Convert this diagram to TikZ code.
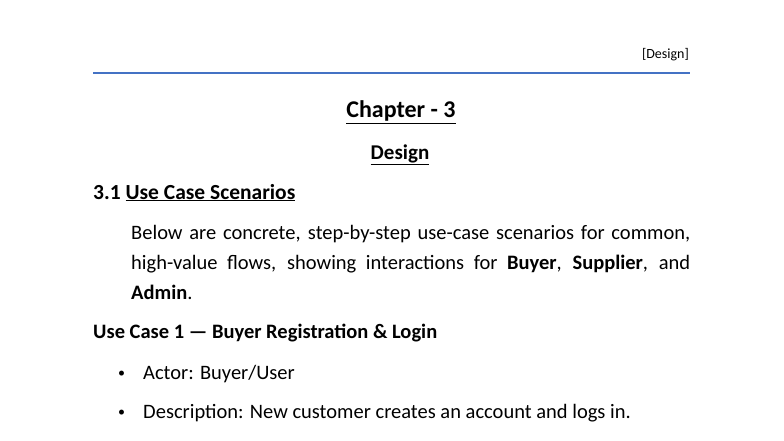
\documentclass[tikz,border=0pt]{standalone}
\usepackage{fontspec}
\setmainfont{Carlito}
\definecolor{rule}{HTML}{4472C4}
\begin{document}
\begin{tikzpicture}[x=1pt,y=-1pt,
  txt/.style={inner sep=0pt,font=\fontsize{20.5}{30}\selectfont},
  bul/.style={inner sep=0pt,font=\fontsize{20.5}{30}\selectfont,anchor=base west}]
\useasboundingbox[fill=white] (0,0) rectangle (784,441);
\node[inner sep=0pt,anchor=base east,font=\fontsize{14}{16}\selectfont] (hdr) at (689,59) {[Design]};
\draw[rule,line width=1.8pt] (93,73) -- (690,73);
\node[inner sep=0pt,anchor=base,font=\bfseries\fontsize{24}{28}\selectfont] (ch) at (401,118) {\underline{Chapter - 3}};
\node[txt,anchor=base,font=\bfseries\fontsize{21}{24}\selectfont] (ds) at (400,159) {\underline{Design}};
\node[txt,anchor=base west,font=\bfseries\fontsize{21.5}{24}\selectfont] (sec) at (93,199) {3.1 \underline{Use Case Scenarios}};
\node[txt,anchor=north west,text width=559pt,align=justify] (par) at (131,225) {Below are concrete, step-by-step use-case scenarios for common, high-value flows, showing interactions for \textbf{Buyer}, \textbf{Supplier}, and \mbox{\textbf{Admin}}.};
\node[bul,font=\bfseries\fontsize{20.5}{24}\selectfont] (uc) at (93,338) {Use Case 1 — Buyer Registration \& Login};
\node[bul,font=\fontsize{14}{16}\selectfont] (b1) at (118,377) {•};
\node[bul] (t1) at (143,379) {Actor: Buyer/User};
\node[bul,font=\fontsize{14}{16}\selectfont] (b2) at (118,416) {•};
\node[bul] (t2) at (143,418) {Description: New customer creates an account and logs in.};
\end{tikzpicture}
\end{document}
